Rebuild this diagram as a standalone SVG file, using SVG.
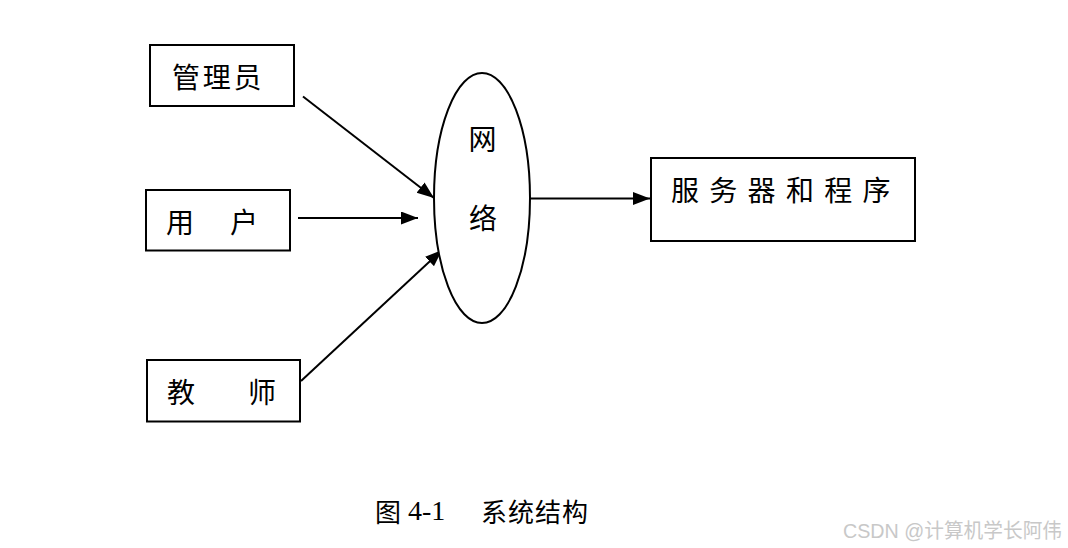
<svg xmlns="http://www.w3.org/2000/svg" width="1068" height="548" viewBox="0 0 1068 548">
<style>
.box{fill:#fff;stroke:#000;stroke-width:2}
.ell{fill:#fff;stroke:#000;stroke-width:2}
.lbl{font-family:"Noto Sans CJK SC","Liberation Serif",serif;font-size:28px;fill:#000;dominant-baseline:central}
.cap{font-family:"Liberation Serif","Noto Sans CJK SC",serif;font-size:26px;fill:#000;dominant-baseline:central}
.wm{font-family:"Liberation Sans","Noto Sans CJK SC",sans-serif;font-size:20px;fill:#c8c8c8;dominant-baseline:central}
.edge{stroke:#000;stroke-width:2;fill:none;marker-end:url(#arr)}
</style>
<defs>
<marker id="arr" markerUnits="userSpaceOnUse" markerWidth="18" markerHeight="14" refX="17" refY="6.5" orient="auto">
<path d="M0,0 L17,6.5 L0,13 z" fill="#000"/>
</marker>
</defs>
<rect width="1068" height="548" fill="#fff"/>
<g id="connectors">
<line class="edge" x1="303" y1="96.5" x2="434" y2="198"/>
<line class="edge" x1="298" y1="218" x2="418" y2="218"/>
<line class="edge" x1="301" y1="381" x2="442" y2="250"/>
<line class="edge" x1="530" y1="198.5" x2="650" y2="198.5"/>
</g>
<g id="admin">
<rect class="box" x="150" y="45" width="144" height="61"/>
<text class="lbl" x="172 202.7 233.4" y="76">管理员</text>
</g>
<g id="user">
<rect class="box" x="146" y="190" width="144" height="60.5"/>
<text class="lbl" y="221"><tspan x="166">用</tspan><tspan x="230">户</tspan></text>
</g>
<g id="teacher">
<rect class="box" x="147" y="360" width="153" height="61.5"/>
<text class="lbl" y="391"><tspan x="167">教</tspan><tspan x="248">师</tspan></text>
</g>
<g id="network">
<ellipse class="ell" cx="482" cy="198" rx="48" ry="125"/>
<text class="lbl" x="482.5" y="138" text-anchor="middle">网</text>
<text class="lbl" x="483" y="217" text-anchor="middle">络</text>
</g>
<g id="server">
<rect class="box" x="651" y="158" width="264" height="83"/>
<text class="lbl" x="671 709.3 747.6 786 824.3 862.6" y="189">服务器和程序</text>
</g>
<g id="caption">
<text class="cap" y="509.5"><tspan x="375" style="font-family:'Noto Sans CJK SC',serif">图</tspan><tspan x="408" font-size="28">4-1</tspan><tspan x="481 508 535 562" style="font-family:'Noto Sans CJK SC',serif">系统结构</tspan></text>
</g>
<text class="wm" x="843" y="531" textLength="219" lengthAdjust="spacingAndGlyphs">CSDN @计算机学长阿伟</text>
</svg>
